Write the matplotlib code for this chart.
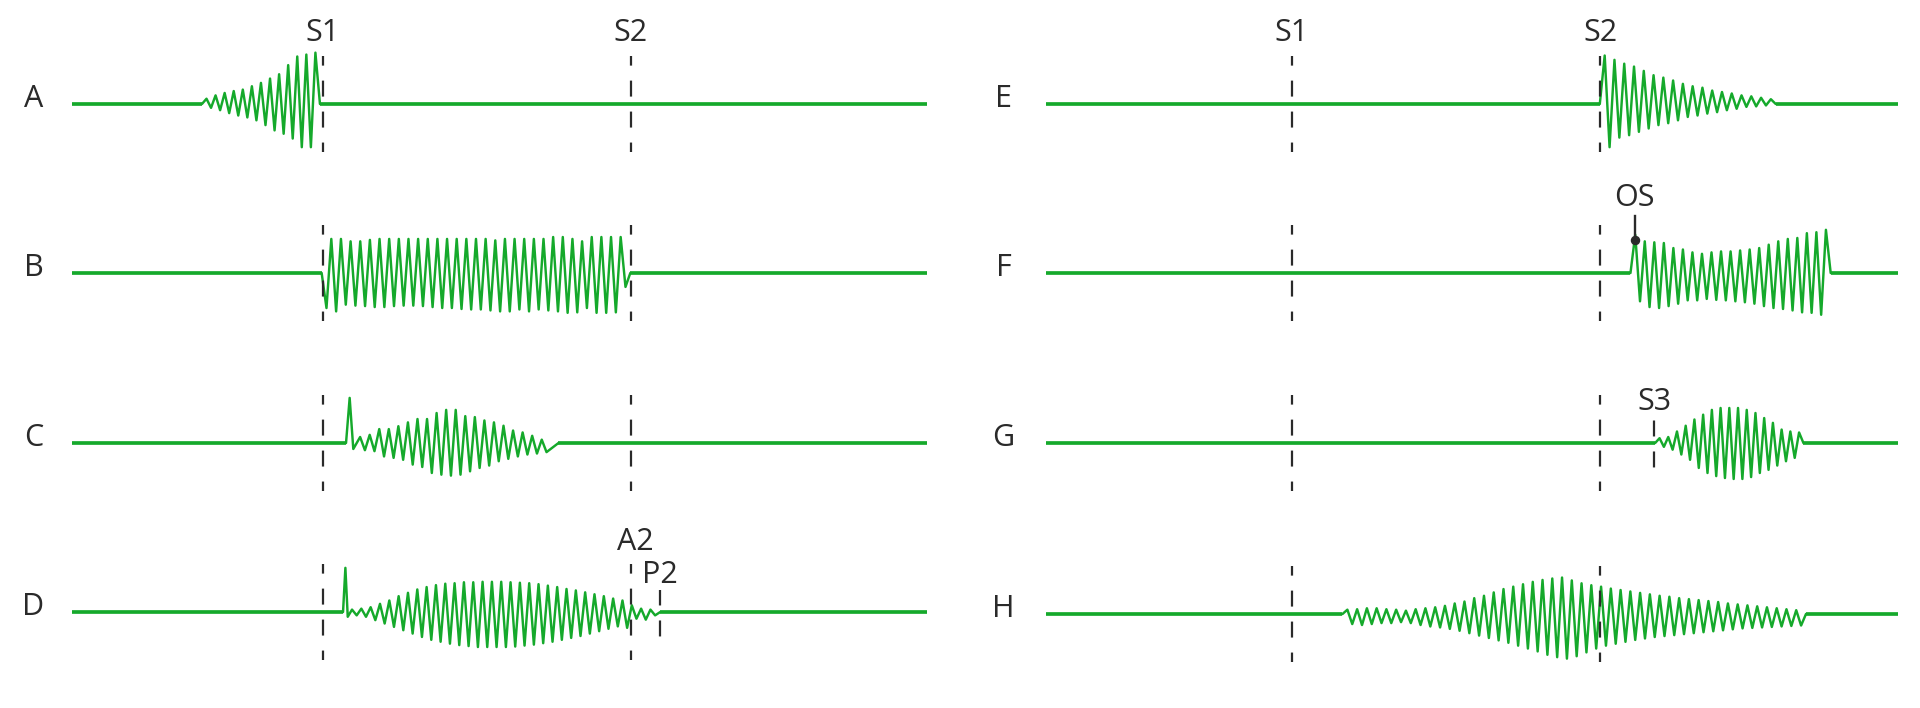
import matplotlib.pyplot as plt

plt.rcParams['font.family'] = ['Open Sans', 'DejaVu Sans']
plt.rcParams['lines.scale_dashes'] = False

GREEN = '#15a92b'
INK = '#2a2a2a'

# time axis: 0..100 % of the drawn cycle, amplitude: 1 = half height of the S1/S2 markers
left_labels = ['A', 'B', 'C', 'D']
right_labels = ['E', 'F', 'G', 'H']
left_s1, left_s2 = 29.35, 65.35
right_s1, right_s2 = 28.85, 65.05

# vertex amplitudes of each murmur, spaced evenly between start/end times
a_wave = [0, 0.11, -0.08, 0.18, -0.13, 0.23, -0.19, 0.27, -0.24, 0.30, -0.28, 0.37, -0.34,
          0.44, -0.44, 0.53, -0.55, 0.62, -0.62, 0.81, -0.72, 0.99, -0.90, 1.03, -0.90, 1.07, 0]

b_wave = [0, -0.73,
          0.71, -0.80, 0.71, -0.66, 0.66, -0.68, 0.66, -0.69, 0.69, -0.71, 0.71, -0.71,
          0.71, -0.69, 0.71, -0.68, 0.71, -0.68, 0.71, -0.69, 0.71, -0.71, 0.71, -0.73,
          0.71, -0.73, 0.71, -0.75, 0.71, -0.76, 0.71, -0.76, 0.71, -0.78, 0.68, -0.80,
          0.71, -0.80, 0.71, -0.76, 0.71, -0.80, 0.71, -0.76, 0.71, -0.78, 0.75, -0.80,
          0.75, -0.83, 0.71, -0.82, 0.66, -0.73, 0.75, -0.83, 0.75, -0.83, 0.75, -0.82,
          0.75, -0.29, 0]

c_click = [0, 0.94, -0.125]
c_ups = [0.125, 0.17, 0.29, 0.29, 0.35, 0.43, 0.50, 0.50, 0.625, 0.69,
         0.69, 0.56, 0.54, 0.47, 0.43, 0.36, 0.26, 0.22, 0.15, 0.07]
c_downs = [-0.15, -0.17, -0.28, -0.31, -0.35, -0.45, -0.50, -0.625, -0.66, -0.68,
           -0.66, -0.59, -0.52, -0.47, -0.38, -0.33, -0.28, -0.24, -0.22, -0.19]

d_click = [0, 0.92, -0.10]
d_ups = [0.05, 0.07, 0.10, 0.17, 0.24, 0.33, 0.40, 0.47, 0.52, 0.56, 0.59, 0.60, 0.62,
         0.62, 0.63, 0.63, 0.63, 0.62, 0.61, 0.60, 0.58, 0.55, 0.52, 0.48, 0.45, 0.41,
         0.37, 0.33, 0.28, 0.24, 0.14, 0.07, 0.05]
d_downs = [-0.07, -0.10, -0.17, -0.24, -0.31, -0.38, -0.45, -0.52, -0.58, -0.62, -0.66,
           -0.69, -0.71, -0.73, -0.73, -0.73, -0.73, -0.72, -0.70, -0.68, -0.65, -0.62,
           -0.58, -0.54, -0.50, -0.45, -0.40, -0.35, -0.30, -0.33, -0.14, -0.16, -0.07]

e_wave = [0, 1.01, -0.90, 0.92, -0.70, 0.84, -0.65, 0.78, -0.58, 0.69, -0.51, 0.60, -0.44,
          0.55, -0.40, 0.49, -0.34, 0.42, -0.27, 0.37, -0.24, 0.34, -0.20, 0.28, -0.17,
          0.25, -0.13, 0.22, -0.10, 0.18, -0.06, 0.16, -0.05, 0.13, -0.03, 0.10, 0]

f_wave = [0, 0.80, -0.59, 0.66, -0.71, 0.64, -0.73, 0.625, -0.69, 0.52, -0.64, 0.49, -0.57,
          0.43, -0.57, 0.40, -0.54, 0.43, -0.56, 0.45, -0.57, 0.45, -0.59, 0.47, -0.61,
          0.49, -0.64, 0.52, -0.69, 0.59, -0.73, 0.66, -0.75, 0.71, -0.78, 0.73, -0.82,
          0.83, -0.83, 0.85, -0.87, 0.90, 0]

g_wave = [0, 0.10, -0.08, 0.125, -0.14, 0.24, -0.24, 0.36, -0.35, 0.49, -0.52, 0.59, -0.625,
          0.69, -0.69, 0.73, -0.73, 0.73, -0.75, 0.73, -0.75, 0.69, -0.71, 0.625, -0.625,
          0.52, -0.56, 0.42, -0.47, 0.28, -0.38, 0.24, -0.31, 0.22, 0]

h_ups = [0.09, 0.10, 0.12, 0.12, 0.10, 0.09, 0.07, 0.10, 0.12, 0.14,
         0.17, 0.22, 0.26, 0.33, 0.38, 0.45, 0.52, 0.57, 0.62, 0.67, 0.71, 0.74, 0.76,
         0.70, 0.64, 0.60, 0.57, 0.53, 0.50, 0.47, 0.44, 0.41, 0.38, 0.36, 0.33, 0.31,
         0.29, 0.27, 0.25, 0.22, 0.20, 0.18, 0.16, 0.14, 0.12, 0.10, 0.08]
h_downs = [-0.21, -0.23, -0.21, -0.19, -0.19, -0.17, -0.19, -0.23, -0.26, -0.28,
           -0.31, -0.35, -0.40, -0.45, -0.50, -0.55, -0.60, -0.66, -0.72, -0.78, -0.85, -0.90, -0.93,
           -0.88, -0.80, -0.72, -0.66, -0.62, -0.58, -0.54, -0.51, -0.48, -0.46, -0.44, -0.42, -0.40,
           -0.38, -0.36, -0.34, -0.32, -0.30, -0.29, -0.28, -0.27, -0.26, -0.25, -0.24]


def interleave(ups, downs):
    out = []
    for u, d in zip(ups, downs):
        out += [u, d]
    return out


# (start, end, vertices) per row
bursts = {
    'A': [(15.2, 29.0, a_wave)],
    'B': [(29.2, 65.3, b_wave)],
    'C': [(32.05, 32.9, c_click), (33.7, 55.5, interleave(c_ups, c_downs)), (56.9, 56.9, [0])],
    'D': [(31.7, 32.25, d_click), (32.75, 68.2, interleave(d_ups, d_downs)), (68.8, 68.8, [0])],
    'E': [(65.0, 85.65, e_wave)],
    'F': [(68.6, 92.1, f_wave)],
    'G': [(71.5, 88.9, g_wave)],
    'H': [(34.8, 89.2, [0] + interleave(h_ups, h_downs) + [0])],
}

# pixel layout of the 1920x708 canvas
W, H = 1920, 708
left_x, left_w = 72, 855
right_x, right_w = 1046, 852
left_rows_y = [104, 273, 443, 612]
right_rows_y = [104, 273, 443, 614]
row_h = 160
unit = 48  # px per amplitude unit
FS = 22

fig = plt.figure(figsize=(W / 100, H / 100), dpi=100)


def dashed(ax, t, y0, y1, offset=4.7):
    ax.plot([t, t], [y0, y1], color=INK, lw=1.6, zorder=4,
            linestyle=(offset, (11.5, 10.8)), solid_capstyle='butt', dash_capstyle='butt')


def draw_row(ax, label, s1, s2, label_t):
    ts, ys = [0.0], [0.0]
    for t0, t1, vals in bursts[label]:
        n = len(vals)
        for i, v in enumerate(vals):
            ts.append(t0 + (t1 - t0) * i / (n - 1) if n > 1 else t0)
            ys.append(v)
    ts.append(100.0)
    ys.append(0.0)
    ax.plot(ts, ys, color=GREEN, lw=1.75, zorder=2)
    ax.plot([0, ts[1]], [0, 0], color=GREEN, lw=2.6, zorder=2, solid_capstyle='butt')
    ax.plot([ts[-2], 100], [0, 0], color=GREEN, lw=2.6, zorder=2, solid_capstyle='butt')
    dashed(ax, s1, -1, 1)
    dashed(ax, s2, -1, 1)
    ax.text(label_t, -0.07, label, fontsize=FS, color=INK, ha='center', va='baseline')


axes = {}
for col, (labels, ys_px, x0, w, s1, s2, lt) in enumerate([
        (left_labels, left_rows_y, left_x, left_w, left_s1, left_s2, -4.5),
        (right_labels, right_rows_y, right_x, right_w, right_s1, right_s2, -5.0)]):
    for lab, yc in zip(labels, ys_px):
        ax = fig.add_axes([x0 / W, (H - yc - row_h / 2) / H, w / W, row_h / H])
        ax.set_xlim(0, 100)
        ax.set_ylim(-row_h / 2 / unit, row_h / 2 / unit)
        ax.axis('off')
        draw_row(ax, lab, s1, s2, lt)
        axes[lab] = ax
    top = axes[labels[0]]
    top.text(s1, 1.32, 'S1', fontsize=FS, color=INK, ha='center', va='baseline')
    top.text(s2, 1.32, 'S2', fontsize=FS, color=INK, ha='center', va='baseline')

# D: split second sound
axes['D'].text(65.9, 1.285, 'A2', fontsize=FS, color=INK, ha='center', va='baseline')
axes['D'].text(68.75, 0.60, 'P2', fontsize=FS, color=INK, ha='center', va='baseline')
dashed(axes['D'], 68.75, -0.52, 0.46, offset=21.9)

# F: opening snap
axes['F'].plot([69.1, 69.1], [0.69, 1.19], color=INK, lw=1.7, zorder=4)
axes['F'].plot([69.1], [0.69], 'o', color=INK, ms=5.8, zorder=5)
axes['F'].text(69.1, 1.39, 'OS', fontsize=FS, color=INK, ha='center', va='baseline')

# G: third heart sound
axes['G'].text(71.4, 0.69, 'S3', fontsize=FS, color=INK, ha='center', va='baseline')
dashed(axes['G'], 71.4, -0.52, 0.48, offset=21.9)

fig.savefig('out.png', dpi=100, facecolor='white')
